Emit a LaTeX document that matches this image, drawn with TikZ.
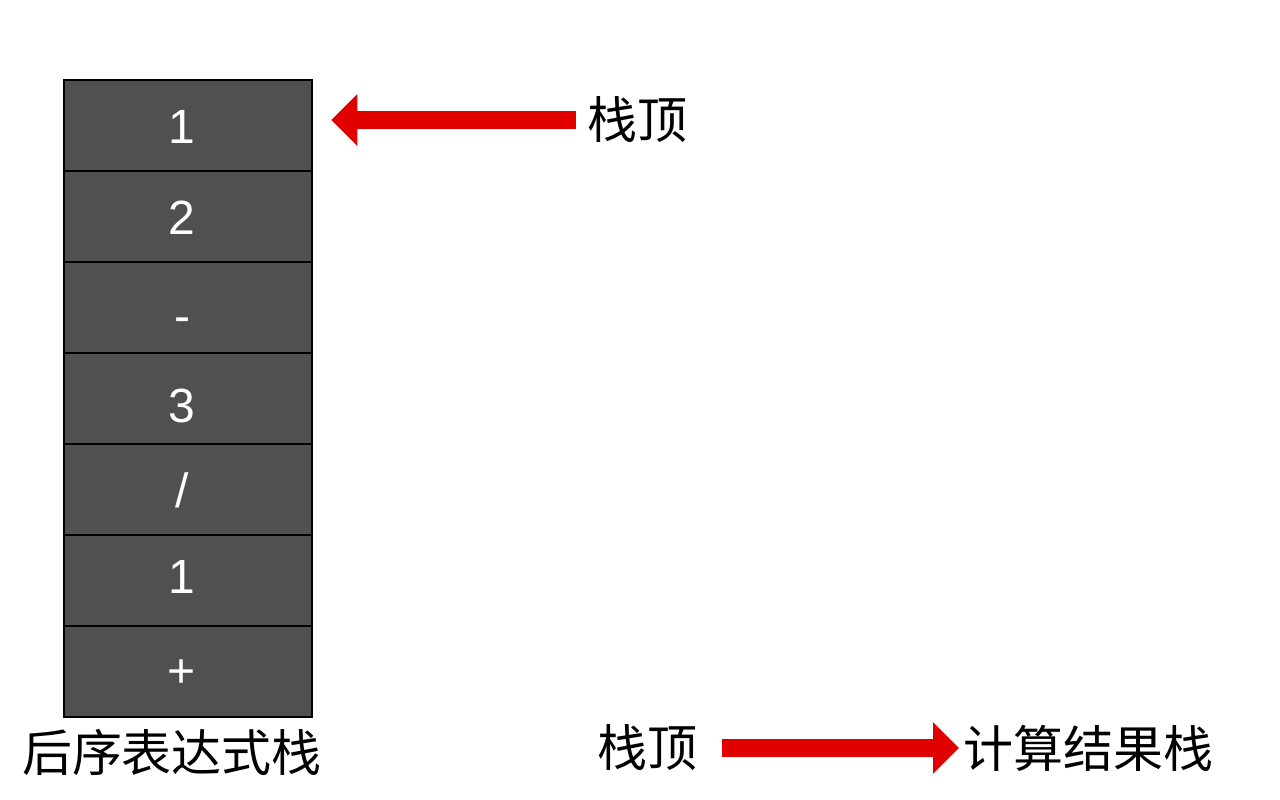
\documentclass[tikz,border=0pt]{standalone}
\usepackage{fontspec}
\setmainfont{Liberation Sans}
\newfontfamily\cjk{Noto Sans CJK SC}
\usetikzlibrary{arrows.meta}
\definecolor{cellgray}{HTML}{505050}
\definecolor{arrowred}{HTML}{E00000}
\begin{document}
\begin{tikzpicture}[x=1pt,y=-1pt,
  cell/.style={draw=black,line width=2.5pt,fill=cellgray,minimum width=248pt,minimum height=91pt,inner sep=0pt},
  celltext/.style={inner sep=0pt,text=white,font=\fontsize{48}{56}\selectfont},
  lab/.style={inner sep=0pt,font=\cjk\fontsize{50}{60}\selectfont},
  bigarrow/.style={draw=arrowred,line width=18pt,-{Triangle[width=50pt,length=26pt]}}]
\useasboundingbox (0,0) rectangle (1280,800);
\foreach \i in {1,...,7}{
  \node[cell] (c\i) at (188,{80+91*(\i-0.5)}) {};
}
\node[celltext] (t1) at ([xshift=-6pt,yshift=-1.5pt]c1.center) {1};
\node[celltext] (t2) at ([xshift=-6pt,yshift=-1.5pt]c2.center) {2};
\node[celltext] (t3) at ([xshift=-6pt,yshift=-18pt]c3.center) {-};
\node[celltext] (t4) at ([xshift=-6pt,yshift=-7.5pt]c4.center) {3};
\node[celltext] (t5) at ([xshift=-6pt,yshift=-0.5pt]c5.center) {/};
\node[celltext] (t6) at ([xshift=-6pt,yshift=4pt]c6.center) {1};
\node[celltext] (t7) at ([xshift=-6pt,yshift=-2pt]c7.center) {+};
\node[lab,anchor=west] (topA) at (587,120) {栈顶};
\node[lab,anchor=west] (topB) at (597,748) {栈顶};
\node[lab,anchor=west] (res) at (963,748) {计算结果栈};
\node[lab] (exp) at (172,752) {后序表达式栈};
\draw[bigarrow,shorten <=11pt,shorten >=18pt] (topA.west) -- (c1.east |- topA.west);
\draw[bigarrow,shorten <=25pt,shorten >=4pt] (topB.east) -- (res.west);
\end{tikzpicture}
\end{document}
